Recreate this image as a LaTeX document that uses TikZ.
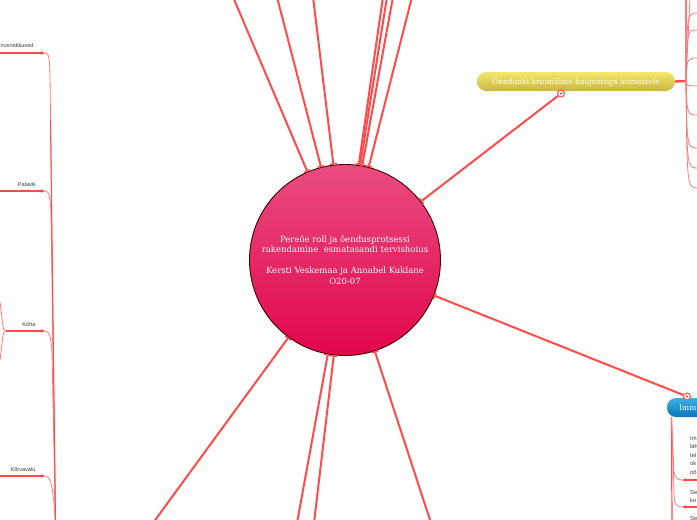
\documentclass[tikz,border=0pt]{standalone}
\usepackage{fontspec}
\setmainfont{DejaVu Serif}
\newfontfamily\lblfont{Liberation Sans}
\usetikzlibrary{arrows.meta,shapes.misc}
\definecolor{conn}{HTML}{FF4B4B}
\definecolor{lconn}{HTML}{FF7A7A}
\definecolor{pinktop}{HTML}{EA4C80}
\definecolor{pinkbot}{HTML}{E2064C}
\definecolor{yeltop}{HTML}{F4E86C}
\definecolor{yelbot}{HTML}{C8B642}
\definecolor{bluetop}{HTML}{3AB0E6}
\definecolor{bluebot}{HTML}{0A76BA}
\definecolor{lbltext}{HTML}{404040}
\tikzset{
  mainconn/.style={draw=conn, line width=2pt, -{Bar[width=7pt,line width=1.4pt]}},
  startdot/.style={circle, draw=conn, fill=white, line width=1pt, minimum size=7pt, inner sep=0pt},
  thinconn/.style={draw=lconn, line width=0.8pt},
  childline/.style={draw=conn, line width=1.2pt, -{Stealth[length=4pt,width=3.5pt]}},
  lbl/.style={font=\lblfont\fontsize{5.6}{6.5}\selectfont, text=lbltext, inner sep=0pt},
  rlbl/.style={font=\lblfont\fontsize{5.8}{6.5}\selectfont, text=lbltext, inner sep=0pt, anchor=west},
}
\begin{document}
\begin{tikzpicture}[x=1pt,y=-1pt]
\useasboundingbox (0,0) rectangle (697,520);
\clip (0,0) rectangle (697,520);
\fill[white] (0,0) rectangle (697,520);

% central node
\node[circle, draw=black!75!red, line width=0.9pt, minimum size=191pt, inner sep=0pt,
      top color=pinktop, bottom color=pinkbot, text=white, align=center,
      font=\fontsize{8.5}{10.6}\selectfont] (c) at (345,260)
  {Pereõe roll ja õendusprotsessi\\rakendamine \ esmatasandi tervishoius\\[10.6pt]Kersti Veskemaa ja Annabel Kuklane\\O20-07};

% yellow node
\node[rounded rectangle, minimum width=198pt, minimum height=19pt, inner sep=0pt,
      top color=yeltop, bottom color=yelbot, text=white!92!yellow,
      font=\fontsize{7.6}{8}\selectfont] (yel) at (576,81.5)
  {Õenduabi krooniliste haigustega inimestele};
\node[startdot] (yc) at (561,93.5) {};
\fill[conn] (yc) circle (1.4pt);

% blue node (partly outside)
\shade[top color=bluetop, bottom color=bluebot, rounded corners=9pt] (667,398) rectangle (730,417);
\node[font=\fontsize{7.5}{8}\selectfont, text=white, anchor=west, inner sep=0pt] (imm) at (679,408) {Imm};
\coordinate (ib) at (671.5,417);
\node[startdot] (ic) at (687,396.5) {};
\fill[conn] (ic) circle (1.4pt);

% connectors to the centre
\foreach \n/\xx in {t1/233,t2/277,t3/313,t4/383,t5/387,t6/393,t7/412}{
  \coordinate (\n) at (\xx,-3);
}
\foreach \n/\xx in {b1/153,b2/297,b3/314,b4/431}{
  \coordinate (\n) at (\xx,523);
}
\foreach \n in {t1,t2,t3,t4,t5,t6,t7,b1,b2,b3,b4}{
  \draw[mainconn] (\n) -- (c);
}
\draw[mainconn] (yc) -- (c);
\draw[mainconn] (ic) -- (c);

% right junction of yellow node
\coordinate (j) at (686,81);
\draw[draw=conn, line width=2.4pt] (yel.east) -- (j);
\foreach \k/\yy in {1/13,2/30,3/58,4/86,5/115,6/148,7/168,8/188}{
  \coordinate (r\k) at (698,\yy);
  \draw[thinconn] (j) .. controls (687,\yy) .. (r\k);
}
\coordinate (ru1) at (686,-2);
\coordinate (ru2) at (690,-2);
\draw[thinconn, line width=1.2pt] (j) -- (ru1);
\draw[thinconn] (j) .. controls (688,40) .. (ru2);

% left branch
\coordinate (lb) at (55.5,523);
\node[lbl] (l1) at (17,45) {irusnakkused};
\node[lbl] (l2) at (27,184) {Palavik};
\node[lbl] (l3) at (29,324) {Köha};
\node[lbl] (l4) at (23,469) {Kõrvavalu};
\foreach \k/\yy/\xs in {1/53/-1,2/191/-1,3/331/6,4/476/-1}{
  \coordinate (hs\k) at (\xs,\yy);
  \coordinate (he\k) at (45,\yy);
  \draw[childline] (hs\k) -- (he\k);
}
\draw[thinconn] (he1) .. controls (49,53) and (49.5,58) .. (50,75) -- (lb);
\draw[thinconn] (he2) .. controls (49,191) and (50,196) .. (51,212) -- (lb);
\draw[thinconn] (he3) .. controls (49,331) and (51,336) .. (52,352) -- (lb);
\draw[thinconn] (he4) .. controls (50,476) and (53,482) .. (lb);
\draw[draw=conn, line width=1pt] (50.5,120) -- (lb);
\coordinate (k1) at (0,302);
\coordinate (k2) at (0,360);
\draw[thinconn] (hs3) .. controls (2,331) and (3,322) .. (k1);
\draw[thinconn] (hs3) .. controls (2,331) and (3,340) .. (k2);

% blue node children
\coordinate (bb) at (672,523);
\draw[draw=conn, line width=1.2pt] (ib) -- (bb);
\foreach \k/\yy in {1/480,2/507}{
  \coordinate (bs\k) at (698,\yy);
  \coordinate (be\k) at (682,\yy);
  \draw[childline] (bs\k) -- (be\k);
}
\draw[thinconn] (be1) .. controls (675,480) and (673.5,475) .. (673.5,462) -- (ib);
\draw[thinconn] (be2) .. controls (675,507) and (674,502) .. (674,490) -- (ib);
\node[rlbl] (c1a) at (690,438) {Im};
\node[rlbl] (c1b) at (690,446.5) {läh};
\node[rlbl] (c1c) at (690,455) {tel};
\node[rlbl] (c1d) at (690,463.5) {ok};
\node[rlbl] (c1e) at (690,472) {nõ};
\node[rlbl] (c2a) at (690,492) {Se};
\node[rlbl] (c2b) at (690,500.5) {ko};
\node[rlbl] (c3a) at (690,518) {Se};
\end{tikzpicture}
\end{document}
